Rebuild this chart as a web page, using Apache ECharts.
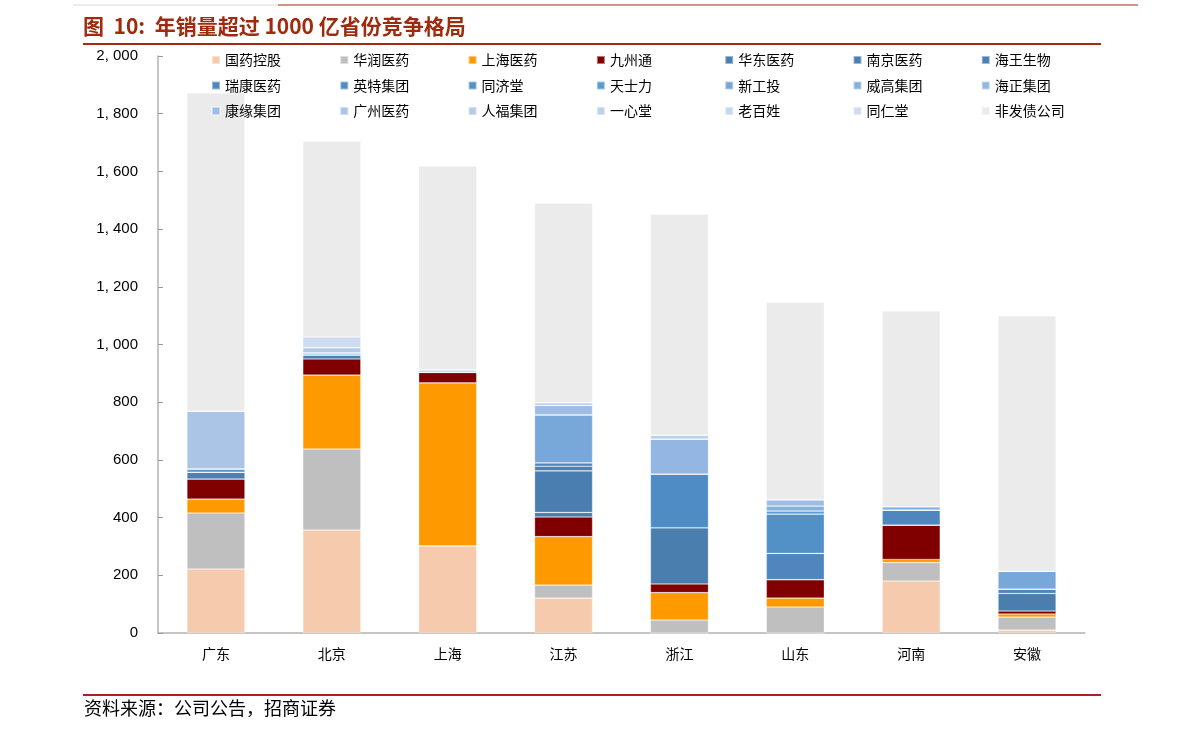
<!DOCTYPE html>
<html>
<head>
<meta charset="utf-8">
<script src="https://cdn.jsdelivr.net/npm/echarts@6/dist/echarts.min.js"></script>
<style>html,body{margin:0;padding:0;background:#fff;}#c{width:1191px;height:738px;}</style>
</head>
<body>
<div id="c"></div>
<script>
const provinces = ['广东', '北京', '上海', '江苏', '浙江', '山东', '河南', '安徽'];
const seriesNames = ['国药控股','华润医药','上海医药','九州通','华东医药','南京医药','海王生物',
  '瑞康医药','英特集团','同济堂','天士力','新工投','威高集团','海正集团',
  '康缘集团','广州医药','人福集团','一心堂','老百姓','同仁堂','非发债公司'];
const seriesColors = ['#f6caad','#bfbfbf','#ff9900','#800000','#4a7eae','#4a7eb0','#4b80b4',
  '#4e86bd','#4f8cc6','#5290c8','#5b9bd5','#78a7da','#86b0df','#93b7e2',
  '#9ebde4','#aac5e5','#b3cbe9','#bbd1ec','#c4d8ef','#cddcf0','#ebebeb'];

const guoyao    = [222, 357, 302, 121, 0, 0, 180, 10];
const huarun    = [194, 281, 0, 45, 45, 90, 64, 45];
const shangyao  = [48, 256, 565, 168, 95, 31, 11, 11];
const jiuzhoutong = [70, 56, 36, 68, 30, 64, 119, 10];
const huadong   = [0, 14, 0, 16, 195, 0, 0, 61];
const nanjing   = [0, 0, 0, 144, 0, 0, 0, 0];
const haiwang   = [23, 0, 0, 16, 0, 0, 0, 0];
const ruikang   = [0, 0, 0, 12, 0, 91, 52, 15];
const yingte    = [0, 0, 0, 0, 186, 0, 0, 0];
const tongjitang = [0, 0, 0, 0, 0, 136, 0, 0];
const tianshili = [12, 7, 0, 0, 0, 11, 0, 0];
const xingongtou = [0, 0, 0, 166, 0, 0, 0, 62];
const weigao    = [0, 0, 0, 0, 0, 17, 12, 0];
const haizheng  = [0, 0, 0, 0, 121, 0, 0, 0];
const kangyuan  = [0, 0, 0, 33, 0, 22, 0, 0];
const guangzhou = [200, 0, 0, 0, 0, 0, 0, 0];
const renfu     = [0, 18, 0, 9, 0, 0, 0, 0];
const yixintang = [0, 0, 0, 0, 14, 0, 0, 0];
const laobaixing = [0, 0, 9, 0, 0, 0, 0, 0];
const tongrentang = [0, 37, 0, 0, 0, 0, 0, 0];
const feifazhai = [1103, 679, 707, 692, 766, 685, 678, 885];

const seriesValues = [guoyao, huarun, shangyao, jiuzhoutong, huadong, nanjing, haiwang,
  ruikang, yingte, tongjitang, tianshili, xingongtou, weigao, haizheng,
  kangyuan, guangzhou, renfu, yixintang, laobaixing, tongrentang, feifazhai];

const yTicks = { min: 0, max: 2000, interval: 200 };

const chart = echarts.init(document.getElementById('c'), null, { renderer: 'canvas' });

const cjk = '"Noto Sans CJK SC", sans-serif';
const legends = [];
for (let col = 0; col < 7; col++) {
  legends.push({
    orient: 'vertical',
    left: 211 + col * 128.3,
    top: 53,
    padding: 0,
    itemWidth: 8,
    itemHeight: 8,
    itemGap: 11.5,
    icon: 'rect',
    data: [seriesNames[col], seriesNames[col + 7], seriesNames[col + 14]],
    textStyle: { fontFamily: cjk, fontSize: 14, color: '#000' },
    selectedMode: false
  });
}

const series = seriesNames.map((n, i) => ({
  name: n,
  type: 'bar',
  stack: 'total',
  barWidth: 58,
  data: seriesValues[i],
  itemStyle: { color: seriesColors[i], borderColor: 'rgba(255,255,255,0.45)', borderWidth: 0.6 },
  emphasis: { disabled: true }
}));

chart.setOption({
  animation: false,
  color: seriesColors,
  grid: { left: 158, right: 106, top: 56, bottom: 105 },
  legend: legends,
  xAxis: {
    type: 'category',
    data: provinces,
    axisLine: { lineStyle: { color: '#b3b3b3', width: 1.5 } },
    axisTick: { inside: true, length: 5, lineStyle: { color: '#999' } },
    axisLabel: { fontFamily: cjk, fontSize: 14, color: '#000', margin: 14 }
  },
  yAxis: {
    type: 'value',
    min: yTicks.min, max: yTicks.max, interval: yTicks.interval,
    splitLine: { show: false },
    axisLine: { show: true, lineStyle: { color: '#b3b3b3', width: 1.5 } },
    axisTick: { show: true, inside: true, length: 5, lineStyle: { color: '#999' } },
    axisLabel: {
      fontFamily: '"Liberation Sans", Arial, sans-serif', fontSize: 15, color: '#000', margin: 20,
      formatter: v => v >= 1000 ? Math.floor(v / 1000) + ', ' + String(v % 1000).padStart(3, '0') : String(v)
    }
  },
  graphic: [
    { type: 'line', shape: { x1: 73, y1: 5, x2: 278, y2: 5 }, style: { stroke: '#d9d9d9', lineWidth: 1 } },
    { type: 'line', shape: { x1: 278, y1: 5, x2: 1138, y2: 5 }, style: { stroke: '#a52a0e', lineWidth: 1.2 } },
    { type: 'text', left: 83, top: 16, style: { text: '图  10:  年销量超过 1000 亿省份竞争格局', fill: '#9e2b0e', font: 'bold 21px "Noto Sans CJK SC", sans-serif' } },
    { type: 'line', shape: { x1: 83, y1: 44, x2: 1101, y2: 44 }, style: { stroke: '#a52a0e', lineWidth: 2 } },
    { type: 'line', shape: { x1: 83, y1: 695, x2: 1101, y2: 695 }, style: { stroke: '#b01e1e', lineWidth: 2 } },
    { type: 'text', left: 84, top: 699, style: { text: '资料来源：公司公告，招商证券', fill: '#000', font: '18px "Noto Sans CJK SC", sans-serif' } }
  ],
  series: series
});
</script>
</body>
</html>
